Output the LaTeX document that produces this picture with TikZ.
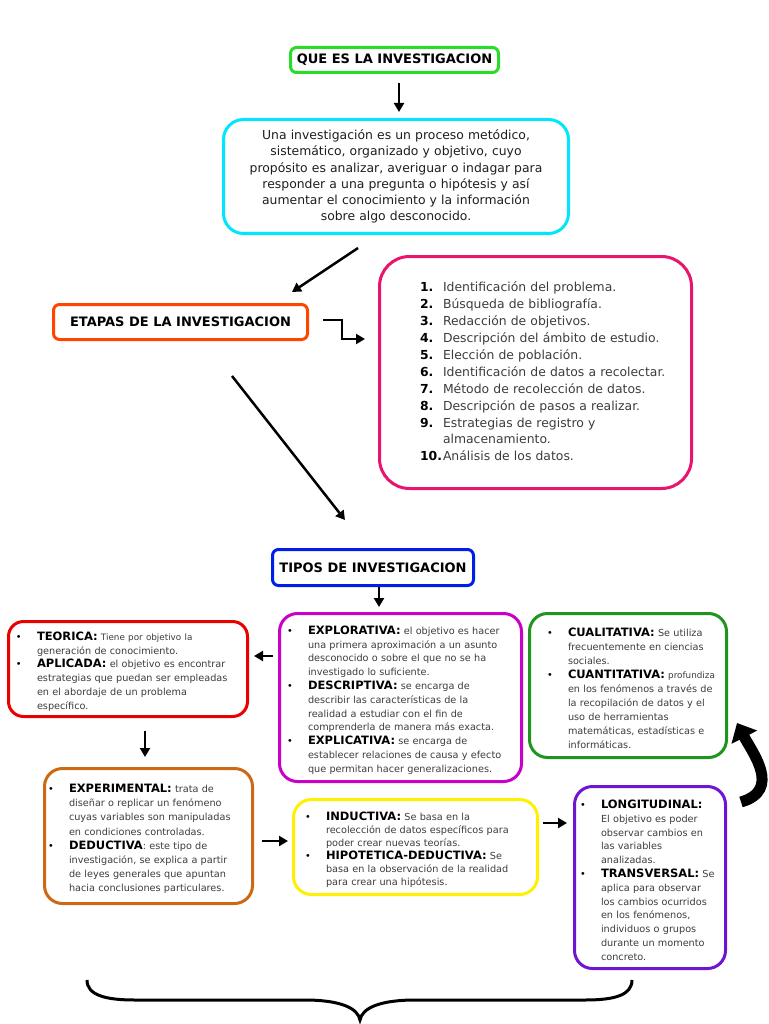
\documentclass[tikz,border=0pt]{standalone}
\usepackage{fontspec}
\setmainfont{DejaVu Sans}
\usetikzlibrary{arrows.meta}
\definecolor{verdeclaro}{RGB}{40,220,40}
\definecolor{cian}{RGB}{0,230,255}
\definecolor{naranjarojo}{RGB}{255,69,0}
\definecolor{rosa}{RGB}{232,20,110}
\definecolor{azul}{RGB}{0,30,230}
\definecolor{rojo}{RGB}{235,0,0}
\definecolor{magenta2}{RGB}{200,0,200}
\definecolor{verde}{RGB}{30,150,30}
\definecolor{naranja}{RGB}{205,105,20}
\definecolor{amarillo}{RGB}{255,240,0}
\definecolor{morado}{RGB}{110,20,210}
\definecolor{gristexto}{RGB}{60,60,60}
\definecolor{negrotexto}{RGB}{30,30,30}
\hfuzz=40pt
\hyphenpenalty=10000
\newcommand{\lbl}[1]{{\color{black}\fontsize{11.5}{13.8}\selectfont\bfseries #1}}
\newcommand{\itm}[2]{\par\noindent\hangindent=21pt\hangafter=1\makebox[21pt][l]{\color{black}\textbullet}#1 #2\par}
\newcommand{\paso}[2]{\par\noindent\hangindent=23pt\hangafter=1\makebox[23pt][l]{\color{black}\bfseries #1}#2\par}
\newcommand{\chico}[1]{{\fontsize{8.8}{13.8}\selectfont #1}}
\begin{document}
\begin{tikzpicture}[x=1pt, y=-1pt,
    titulo/.style={draw, line width=3pt, rounded corners=6pt, font=\fontsize{13}{15}\selectfont\bfseries, text=black},
    caja/.style={draw, line width=3pt, rounded corners=18pt, inner ysep=0pt, align=left, font=\fontsize{9.7}{13.8}\selectfont, text=gristexto},
    flecha/.style={line width=2.5pt, -{Triangle[length=9pt,width=10pt]}}]
  \useasboundingbox (0,0) rectangle (768,1024);

  % upper part
  \node[titulo, draw=verdeclaro, minimum width=208pt, minimum height=25pt] (que) at (394.5,60) {QUE ES LA INVESTIGACION};
  \node[draw=cian, line width=3pt, rounded corners=20pt, minimum width=345pt, minimum height=114pt,
        text width=338pt, align=center, font=\fontsize{12.4}{16.3}\selectfont, text=negrotexto] (def) at (396,176.5)
        {Una investigación es un proceso metódico,\\ sistemático, organizado y objetivo, cuyo\\ propósito es analizar, averiguar o indagar para\\ responder a una pregunta o hipótesis y así\\ aumentar el conocimiento y la información\\ sobre algo desconocido.};
  \node[titulo, draw=naranjarojo, minimum width=254pt, minimum height=35pt] (etapas) at (180.5,322) {ETAPAS DE LA INVESTIGACION};
  \node[caja, draw=rosa, rounded corners=30pt, minimum width=312pt, minimum height=232pt, inner xsep=14pt, text width=284pt,
        font=\fontsize{12.4}{16.9}\selectfont, text=gristexto] (pasos) at (535.5,372.5)
        {\leftskip=26.5pt
         \paso{1.}{Identificación del problema.}
         \paso{2.}{Búsqueda de bibliografía.}
         \paso{3.}{Redacción de objetivos.}
         \paso{4.}{Descripción del ámbito de estudio.}
         \paso{5.}{Elección de población.}
         \paso{6.}{Identificación de datos a recolectar.}
         \paso{7.}{Método de recolección de datos.}
         \paso{8.}{Descripción de pasos a realizar.}
         \paso{9.}{Estrategias de registro y\newline almacenamiento.}
         \paso{10.}{Análisis de los datos.}
         \vspace*{9pt}};
  \node[titulo, draw=azul, minimum width=201pt, minimum height=36pt] (tipos) at (373,567.5) {TIPOS DE INVESTIGACION};

  % tipos
  \node[caja, draw=rojo, rounded corners=15pt, minimum width=239pt, minimum height=95pt, inner xsep=7.5pt, text width=224pt] (teorica) at (128,669)
        {\itm{\lbl{TEORICA:}}{\chico{Tiene por objetivo la}\newline generación de conocimiento.}
         \itm{\lbl{APLICADA:}}{el objetivo es encontrar\newline estrategias que puedan ser empleadas\newline en el abordaje de un problema\newline específico.}};
  \node[caja, draw=magenta2, minimum width=242pt, minimum height=168pt, inner xsep=7.5pt, text width=227pt] (explor) at (400.5,697.5)
        {\itm{\lbl{EXPLORATIVA:}}{el objetivo es hacer\newline una primera aproximación a un asunto\newline desconocido o sobre el que no se ha\newline investigado lo suficiente.}
         \itm{\lbl{DESCRIPTIVA:}}{se encarga de\newline describir las características de la\newline realidad a estudiar con el fin de\newline comprenderla de manera más exacta.}
         \itm{\lbl{EXPLICATIVA:}}{se encarga de\newline establecer relaciones de causa y efecto\newline que permitan hacer generalizaciones.}};
  \node[caja, draw=verde, minimum width=197pt, minimum height=144pt, inner xsep=4pt, text width=189pt,
        font=\fontsize{9.7}{14}\selectfont] (cuali) at (628,685.5)
        {\leftskip=13.5pt
         \itm{\lbl{CUALITATIVA:}}{Se utiliza\newline frecuentemente en ciencias\newline sociales.}
         \itm{\lbl{CUANTITATIVA:}}{\chico{profundiza}\newline en los fenómenos a través de\newline la recopilación de datos y el\newline uso de herramientas\newline matemáticas, estadísticas e\newline informáticas.}};
  \node[caja, draw=naranja, minimum width=208pt, minimum height=135pt, inner xsep=3.5pt, text width=201pt,
        font=\fontsize{9.7}{14.2}\selectfont] (exper) at (148.5,836)
        {\itm{\lbl{EXPERIMENTAL:}}{trata de\newline diseñar o replicar un fenómeno\newline cuyas variables son manipuladas\newline en condiciones controladas.}
         \itm{\lbl{DEDUCTIVA}:}{este tipo de\newline investigación, se explica a partir\newline de leyes generales que apuntan\newline hacia conclusiones particulares.}};
  \node[caja, draw=amarillo, minimum width=244pt, minimum height=95pt, inner xsep=11.5pt, text width=221pt,
        font=\fontsize{9.7}{13}\selectfont] (induc) at (415.5,847)
        {\itm{\lbl{INDUCTIVA:}}{Se basa en la\newline recolección de datos específicos para\newline poder crear nuevas teorías.}
         \itm{\lbl{HIPOTETICA-DEDUCTIVA:}}{Se\newline basa en la observación de la realidad\newline para crear una hipótesis.}};
  \node[caja, draw=morado, minimum width=151pt, minimum height=182pt, inner xsep=5.5pt, text width=140pt] (longi) at (650,877.5)
        {\itm{\lbl{LONGITUDINAL:}}{\newline El objetivo es poder\newline observar cambios en\newline las variables\newline analizadas.}
         \itm{\lbl{TRANSVERSAL:}}{Se\newline aplica para observar\newline los cambios ocurridos\newline en los fenómenos,\newline individuos o grupos\newline durante un momento\newline concreto.}};

  % arrows
  \draw[flecha] ([xshift=4.5pt,yshift=-9pt]que.south) -- ([xshift=3pt,yshift=6pt]def.north);
  \draw[flecha] ([xshift=-38pt,yshift=-13pt]def.south) -- ([xshift=111.5pt,yshift=11pt]etapas.north);
  \draw[flecha] ([xshift=14pt,yshift=2pt]etapas.east) -- ++(19,0) -- ++(0,19) -- ([xshift=-13pt,yshift=33.5pt]pasos.west);
  \draw[flecha] ([xshift=51.5pt,yshift=-35pt]etapas.south) -- ([xshift=-28pt,yshift=28pt]tipos.north);
  \draw[flecha] ([xshift=6pt]tipos.south) -- ([xshift=-21.5pt,yshift=5pt]explor.north);
  \draw[flecha] ([xshift=-5pt,yshift=41.5pt]explor.west) -- ([xshift=5pt,yshift=13pt]teorica.east);
  \draw[flecha] ([xshift=17pt,yshift=-13pt]teorica.south) -- ([xshift=-3.5pt,yshift=10pt]exper.north);
  \draw[flecha] ([xshift=8pt,yshift=-5pt]exper.east) -- ([xshift=-4pt,yshift=6pt]induc.west);
  \draw[flecha] ([xshift=4pt,yshift=24pt]induc.east) -- ([xshift=-6pt,yshift=54.5pt]longi.west);
  \draw[line width=11pt, -{Triangle[length=16pt,width=28pt]}] ([xshift=14pt,yshift=-17pt]longi.north east)
        .. controls (782,790) and (752,752) .. ([xshift=9pt,yshift=36pt]cuali.south east);

  % brace
  \draw[line width=3pt] (87,980) .. controls (87,995) and (105,1000) .. (135,1000) -- (305,1000)
        .. controls (340,1000) and (358,1008) .. (360,1020) .. controls (362,1008) and (380,1000) .. (415,1000)
        -- (585,1000) .. controls (615,1000) and (632,995) .. (632,980);
\end{tikzpicture}
\end{document}
